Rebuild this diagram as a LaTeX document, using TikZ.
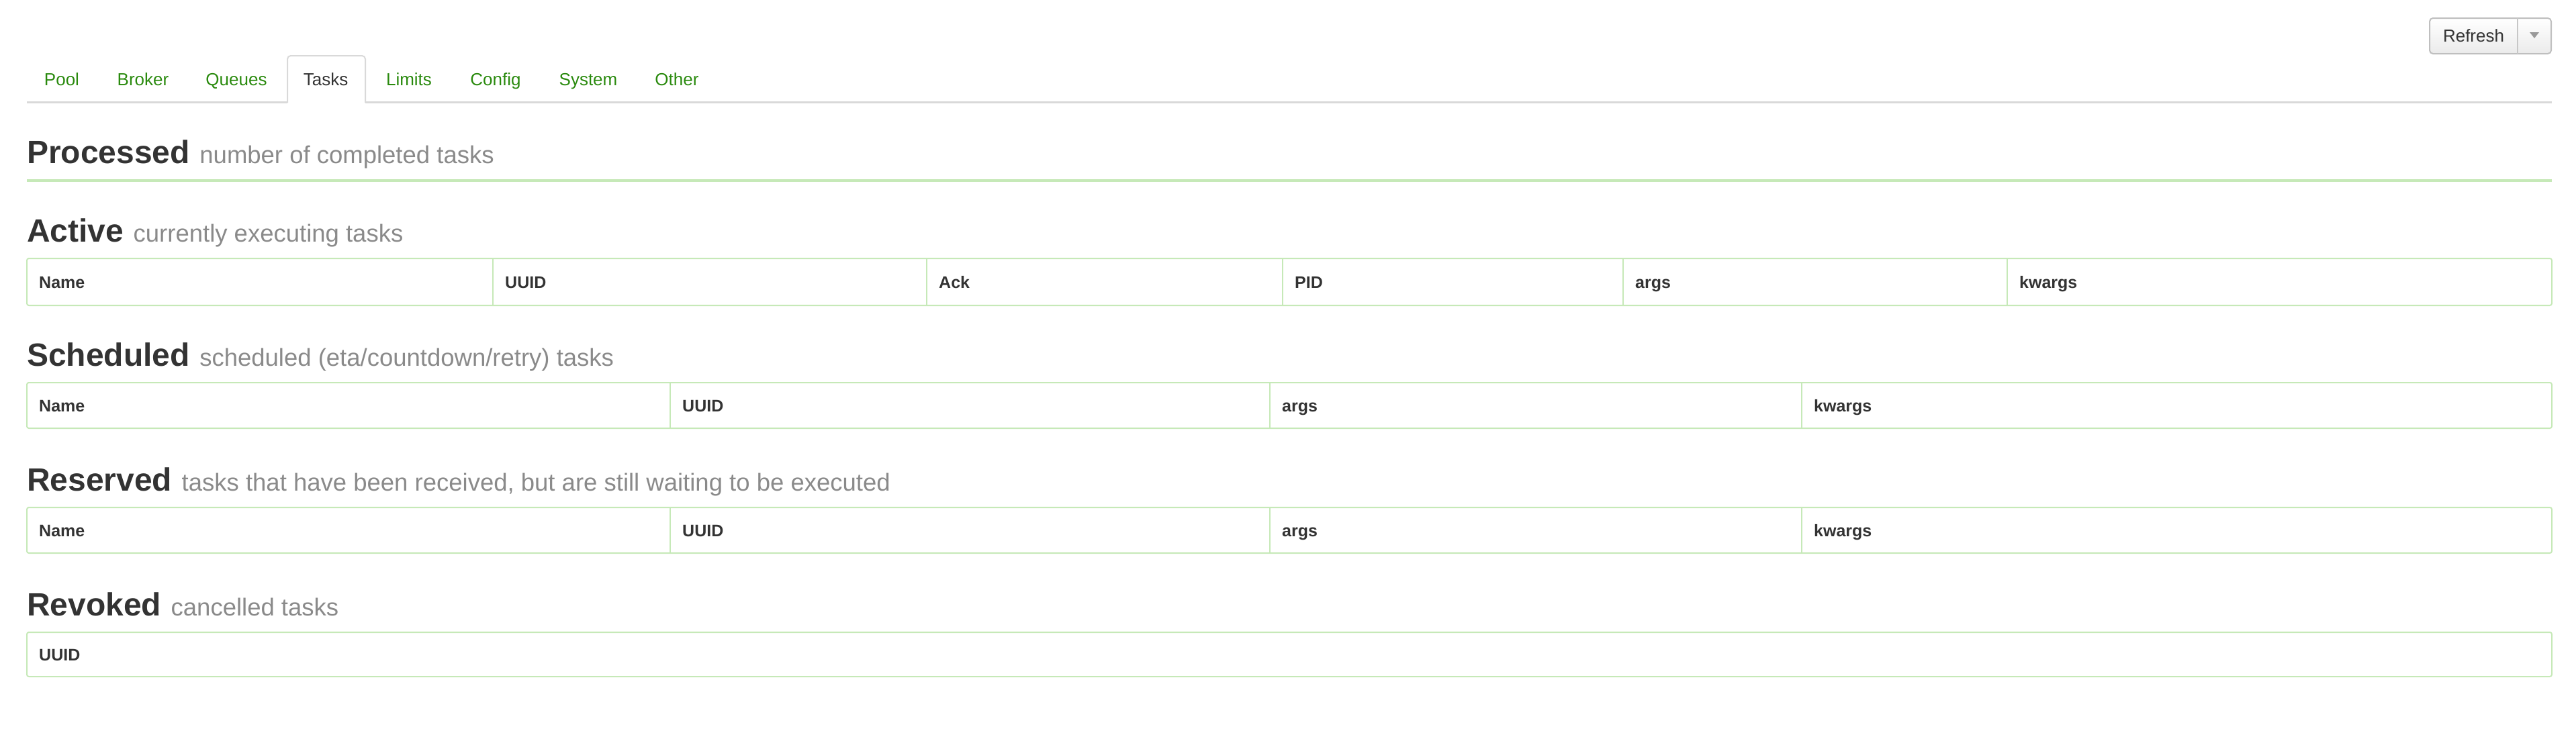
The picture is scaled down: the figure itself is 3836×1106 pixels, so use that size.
\documentclass[tikz,border=0pt]{standalone}
\usepackage{fontspec}
\setmainfont{Liberation Sans}
\definecolor{tabgreen}{HTML}{2A8A0E}
\definecolor{lgreen}{HTML}{C6E9B8}
\definecolor{subgray}{HTML}{8A8A8A}
\definecolor{dark}{HTML}{333333}
\begin{document}
\begin{tikzpicture}[x=1pt,y=-1pt,
  tab/.style={anchor=base,text=tabgreen,font=\fontsize{26}{28}\selectfont,inner sep=0},
  head/.style={anchor=base west,text=dark,font=\fontsize{48}{52}\selectfont\bfseries,inner sep=0},
  sub/.style={anchor=base west,text=subgray,font=\fontsize{36.5}{40}\selectfont,inner sep=0},
  cell/.style={anchor=base west,text=dark,font=\fontsize{25}{28}\selectfont\bfseries,inner sep=0},
  tbl/.style={draw=lgreen,line width=2pt,rounded corners=3pt},
  sep/.style={draw=lgreen,line width=2pt}]
\useasboundingbox (0,0) rectangle (3836,1106);
% refresh button
\draw[draw=black!25,line width=2pt,rounded corners=5pt,top color=white,bottom color=black!8] (3618,27) rectangle (3799,80);
\draw[black!22,line width=2pt] (3749,27) -- (3749,80);
\node[anchor=center,text=dark,font=\fontsize{26}{30}\selectfont,inner sep=0] (refresh) at (3683.5,53.5) {Refresh};
\fill[black!40] (3767,48) -- (3781,48) -- (3774,57) -- cycle;
% tabs
\draw[black!15,line width=3pt] (40,152) -- (428,152);
\draw[black!15,line width=3pt] (544,152) -- (3800,152);
\draw[black!15,line width=2pt,rounded corners=5pt] (428,153) -- (428,83) -- (544,83) -- (544,153);
\node[tab] (t1) at (92,127) {Pool};
\node[tab] (t2) at (213,127) {Broker};
\node[tab] (t3) at (352,127) {Queues};
\node[tab,text=dark] (t4) at (485,127) {Tasks};
\node[tab] (t5) at (609,127) {Limits};
\node[tab] (t6) at (738,127) {Config};
\node[tab] (t7) at (876,127) {System};
\node[tab] (t8) at (1008,127) {Other};
% Processed
\node[head] (h1) at (40,243) {Processed};
\node[sub] (s1) at ([xshift=14pt]h1.base east) {number of completed tasks};
\draw[lgreen,line width=4pt] (40,269) -- (3800,269);
% Active
\node[head] (h2) at (40,360) {Active};
\node[sub] (s2) at ([xshift=14pt]h2.base east) {currently executing tasks};
\draw[tbl] (40,385) rectangle (3800,455);
\foreach \x in {734,1380,1910,2417,2989} \draw[sep] (\x,385) -- (\x,455);
\foreach \x/\t in {40/Name,734/UUID,1380/Ack,1910/PID,2417/args,2989/kwargs} \node[cell] at (\x+18,429) {\t};
% Scheduled
\node[head] (h3) at (40,545) {Scheduled};
\node[sub] (s3) at ([xshift=14pt]h3.base east) {scheduled (eta/countdown/retry) tasks};
\draw[tbl] (40,570) rectangle (3800,638);
\foreach \x in {998,1891,2683} \draw[sep] (\x,570) -- (\x,638);
\foreach \x/\t in {40/Name,998/UUID,1891/args,2683/kwargs} \node[cell] at (\x+18,613) {\t};
% Reserved
\node[head] (h4) at (40,731) {Reserved};
\node[sub] (s4) at ([xshift=14pt]h4.base east) {tasks that have been received, but are still waiting to be executed};
\draw[tbl] (40,756) rectangle (3800,824);
\foreach \x in {998,1891,2683} \draw[sep] (\x,756) -- (\x,824);
\foreach \x/\t in {40/Name,998/UUID,1891/args,2683/kwargs} \node[cell] at (\x+18,799) {\t};
% Revoked
\node[head] (h5) at (40,917) {Revoked};
\node[sub] (s5) at ([xshift=14pt]h5.base east) {cancelled tasks};
\draw[tbl] (40,942) rectangle (3800,1008);
\node[cell] (r1) at (58,984) {UUID};
\end{tikzpicture}
\end{document}
